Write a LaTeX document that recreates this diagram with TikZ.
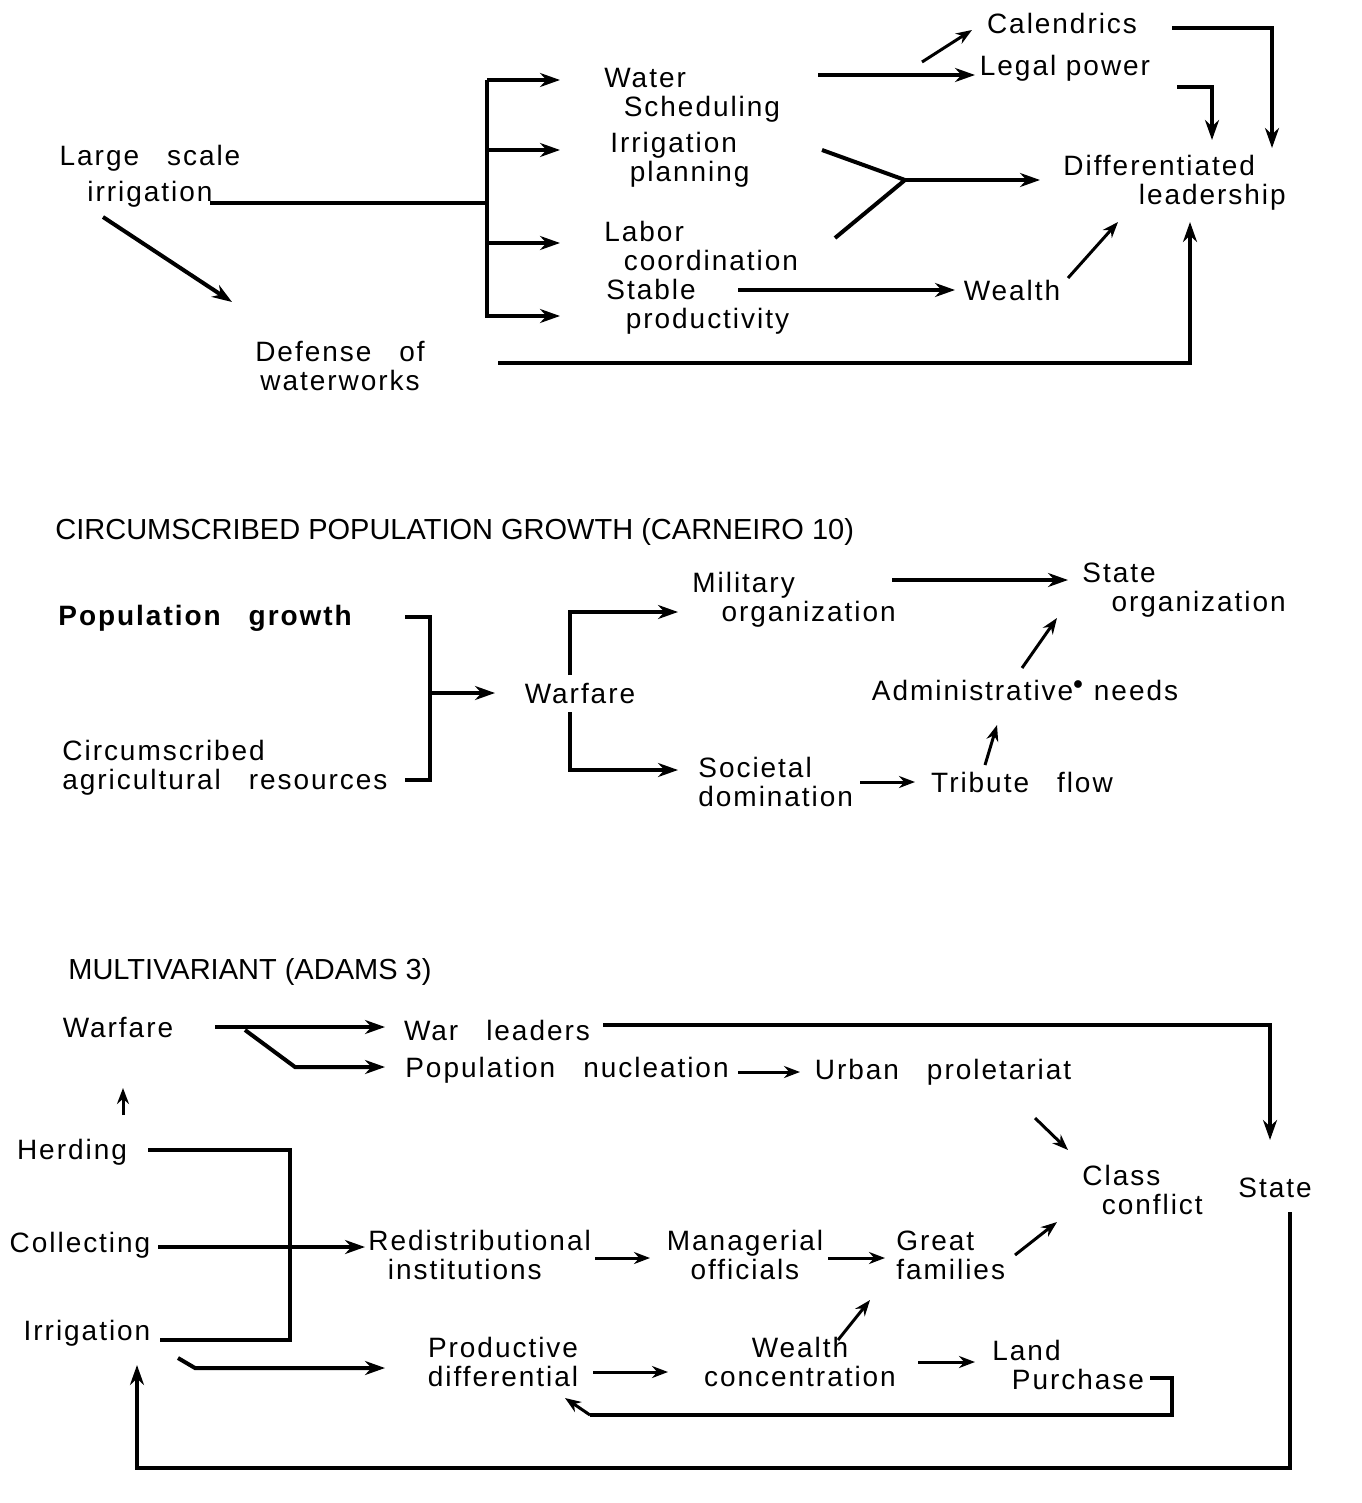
\documentclass[tikz,border=0pt]{standalone}
\usepackage{fontspec}
\setmainfont{Liberation Sans}
\usetikzlibrary{arrows.meta}
\begin{document}
\begin{tikzpicture}[x=0.5pt,y=-0.5pt,
  t/.style={font=\fontsize{14}{14.5}\selectfont\addfontfeature{LetterSpace=7},align=center,inner sep=0pt},
  tl/.style={t,align=left,anchor=west},
  hd/.style={font=\fontsize{14.5}{16}\selectfont,anchor=west,inner sep=0pt},
  ln/.style={line width=2pt},
  ar/.style={ln,-{Stealth[length=10pt,width=7pt]}},
  sa/.style={line width=1.5pt,-{Stealth[length=8pt,width=6pt]}}]
\useasboundingbox (0,0) rectangle (1361,1503);
% ---------- top ----------
\node[t,font=\fontsize{14}{18}\selectfont\addfontfeature{LetterSpace=7}] (lsi) at (150,176) {Large\quad scale\\irrigation};
\node[t] (def) at (340,366) {Defense\quad of\\waterworks};
\node[tl] (ws) at (604,95) {Water\\\ \ Scheduling};
\node[tl] (ip) at (610,160) {Irrigation\\\ \ planning};
\node[tl] (lc) at (604,246) {Labor\\\ \ coordination};
\node[tl] (sp) at (606,307) {Stable\\\ \ productivity};
\node[t] (cal) at (1062,23) {Calendrics};
\node[t] (lp) at (1065,68) {Legal power};
\node[tl] (dl) at (1063,183) {Differentiated\\\qquad\ \ leadership};
\node[t] (wl) at (1012,290) {Wealth};
\coordinate (b1) at (487,80); \coordinate (b2) at (487,318);
\draw[ln] (210,203) -- (487,203);
\draw[ln] (b1) -- (b2);
\foreach \y in {80,150,243,316} \draw[ar] (487,\y) -- (560,\y);
\draw[ar] (818,75) -- (975,75);
\draw[sa] (922,62) -- (972,30);
\draw[ar] (1172,28) -- (1272,28) -- (1272,148);
\draw[ar] (1177,87) -- (1212,87) -- (1212,140);
\draw[ln] (822,150) -- (905,180) -- (835,238);
\draw[ar] (905,180) -- (1040,180);
\draw[ar] (738,290) -- (955,290);
\draw[sa] (1068,278) -- (1118,222);
\draw[ar] (103,217) -- (232,302);
\draw[ar] (498,363) -- (1190,363) -- (1190,222);
% ---------- middle ----------
\node[hd] (h1) at (55,532) {CIRCUMSCRIBED POPULATION GROWTH (CARNEIRO 10)};
\node[tl] (pg) at (58,618) {\bfseries Population\quad growth};
\node[tl] (car) at (62,768) {Circumscribed\\agricultural\quad resources};
\node[t] (wf) at (580,693) {Warfare};
\node[tl] (mo) at (692,600) {Military\\\ \ \ organization};
\node[tl] (so) at (1082,590) {State\\\ \ \ organization};
\node[t] (an) at (1025,690) {Administrative$^{\bullet}$ needs};
\node[tl] (sd) at (698,782) {Societal\\domination};
\node[t] (tf) at (1022,782) {Tribute\quad flow};
\draw[ln] (405,617) -- (430,617) -- (430,780) -- (405,780);
\draw[ar] (430,693) -- (495,693);
\draw[ar] (570,675) -- (570,612) -- (678,612);
\draw[ar] (570,712) -- (570,770) -- (678,770);
\draw[ar] (892,580) -- (1068,580);
\draw[sa] (1022,668) -- (1057,618);
\draw[sa] (860,782) -- (915,782);
\draw[sa] (985,765) -- (997,725);
% ---------- bottom ----------
\node[hd] (h2) at (68,972) {MULTIVARIANT (ADAMS 3)};
\node[t] (wf2) at (118,1027) {Warfare};
\node[t] (her) at (72,1152) {Herding};
\node[t] (col) at (80,1245) {Collecting};
\node[t] (irr) at (87,1333) {Irrigation};
\node[t] (wlead) at (497,1030) {War\quad leaders};
\node[t] (pn) at (567,1070) {Population\quad nucleation};
\node[t] (up) at (943,1072) {Urban\quad proletariat};
\node[tl] (cc) at (1082,1190) {Class\\\ \ conflict};
\node[t] (st) at (1275,1188) {State};
\node[tl] (ri) at (368,1255) {Redistributional\\\ \ institutions};
\node[t] (mof) at (745,1255) {Managerial\\officials};
\node[tl] (gf) at (896,1255) {Great\\families};
\node[t] (pd) at (503,1362) {Productive\\differential};
\node[t] (wc) at (800,1362) {Wealth\\concentration};
\node[tl] (lpu) at (992,1365) {Land\\\ \ Purchase};
\draw[sa] (123,1115) -- (123,1088);
\draw[ar] (215,1027) -- (385,1027);
\draw[ar] (245,1030) -- (295,1067) -- (385,1067);
\draw[sa] (738,1072) -- (800,1072);
\draw[ar] (603,1025) -- (1270,1025) -- (1270,1140);
\draw[sa] (1035,1118) -- (1068,1150);
\draw[ln] (148,1150) -- (290,1150) -- (290,1340) -- (160,1340);
\draw[ar] (158,1247) -- (365,1247);
\draw[sa] (595,1258) -- (650,1258);
\draw[sa] (828,1258) -- (885,1258);
\draw[sa] (1015,1255) -- (1057,1222);
\draw[ar] (178,1358) -- (195,1368) -- (385,1368);
\draw[sa] (593,1372) -- (668,1372);
\draw[sa] (838,1340) -- (870,1300);
\draw[sa] (918,1362) -- (975,1362);
\draw[ln] (1150,1378) -- (1172,1378) -- (1172,1415) -- (590,1415);
\draw[sa] (590,1415) -- (565,1398);
\draw[ar] (1290,1212) -- (1290,1468) -- (137,1468) -- (137,1365);
\end{tikzpicture}
\end{document}
